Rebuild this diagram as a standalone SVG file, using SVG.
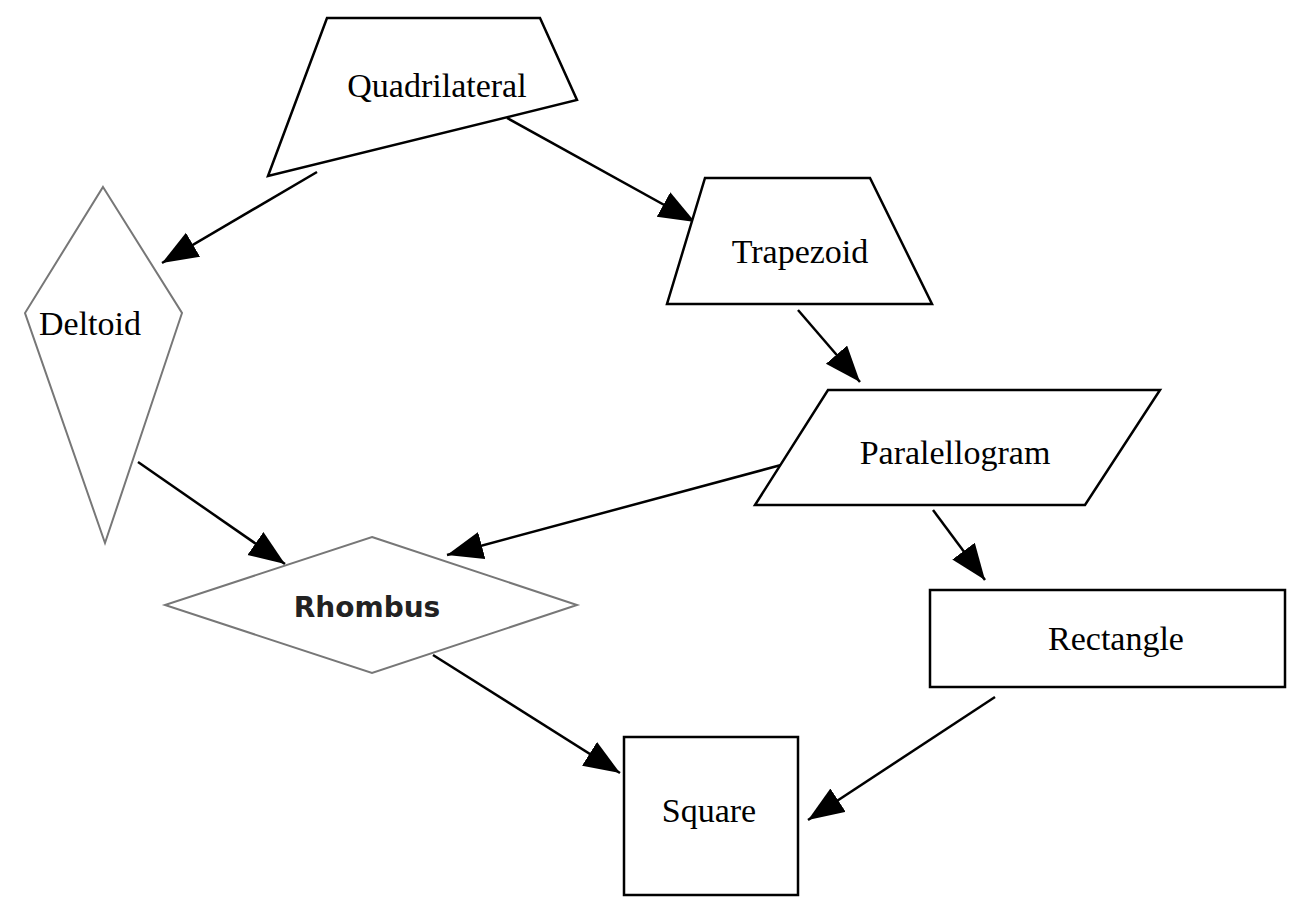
<svg xmlns="http://www.w3.org/2000/svg" width="1300" height="912" viewBox="0 0 1300 912">
<style>
.s{fill:#fff;stroke:#000;stroke-width:2.5}
.g{fill:#fff;stroke:#777;stroke-width:2}
.t{font-family:"Liberation Serif",serif;font-size:34px;text-anchor:middle;fill:#000}
.c{stroke:#000;stroke-width:2.5;fill:none;marker-end:url(#a)}
</style>
<defs><marker id="a" markerUnits="userSpaceOnUse" markerWidth="38" markerHeight="30" refX="36" refY="14" orient="auto"><path d="M0,0 L36,14 L0,28 Z" fill="#000"/></marker></defs>
<rect width="1300" height="912" fill="#fff"/>
<g id="connectors">
<line class="c" x1="317" y1="172" x2="162" y2="263"/>
<line class="c" x1="507" y1="118" x2="695" y2="222"/>
<line class="c" x1="798" y1="310" x2="860" y2="382"/>
<line class="c" x1="781" y1="465" x2="447" y2="555"/>
<line class="c" x1="138" y1="462" x2="285" y2="564"/>
<line class="c" x1="933" y1="510" x2="985" y2="580"/>
<line class="c" x1="433" y1="655" x2="620" y2="773"/>
<line class="c" x1="995" y1="697" x2="808" y2="820"/>
</g>
<g id="quadrilateral"><polygon class="s" points="327,18 540,18 577,100 268,176"/><text class="t" x="437" y="97">Quadrilateral</text></g>
<g id="deltoid"><polygon class="g" points="103,187 182,313 105,543 25,313"/><text class="t" x="90" y="335">Deltoid</text></g>
<g id="trapezoid"><polygon class="s" points="705,178 870,178 932,304 667,304"/><text class="t" x="800" y="263">Trapezoid</text></g>
<g id="paralellogram"><polygon class="s" points="828,390 1160,390 1085,505 755,505"/><text class="t" x="955" y="464">Paralellogram</text></g>
<g id="rhombus"><polygon class="g" points="372,537 577,605 372,673 165,605"/><text class="t" x="367" y="617" style="font-family:'DejaVu Sans',sans-serif;font-weight:bold;font-size:28px;fill:#222">Rhombus</text></g>
<g id="rectangle"><rect class="s" x="930" y="590" width="355" height="97"/><text class="t" x="1116" y="650">Rectangle</text></g>
<g id="square"><rect class="s" x="624" y="737" width="174" height="158"/><text class="t" x="709" y="822">Square</text></g>
</svg>
